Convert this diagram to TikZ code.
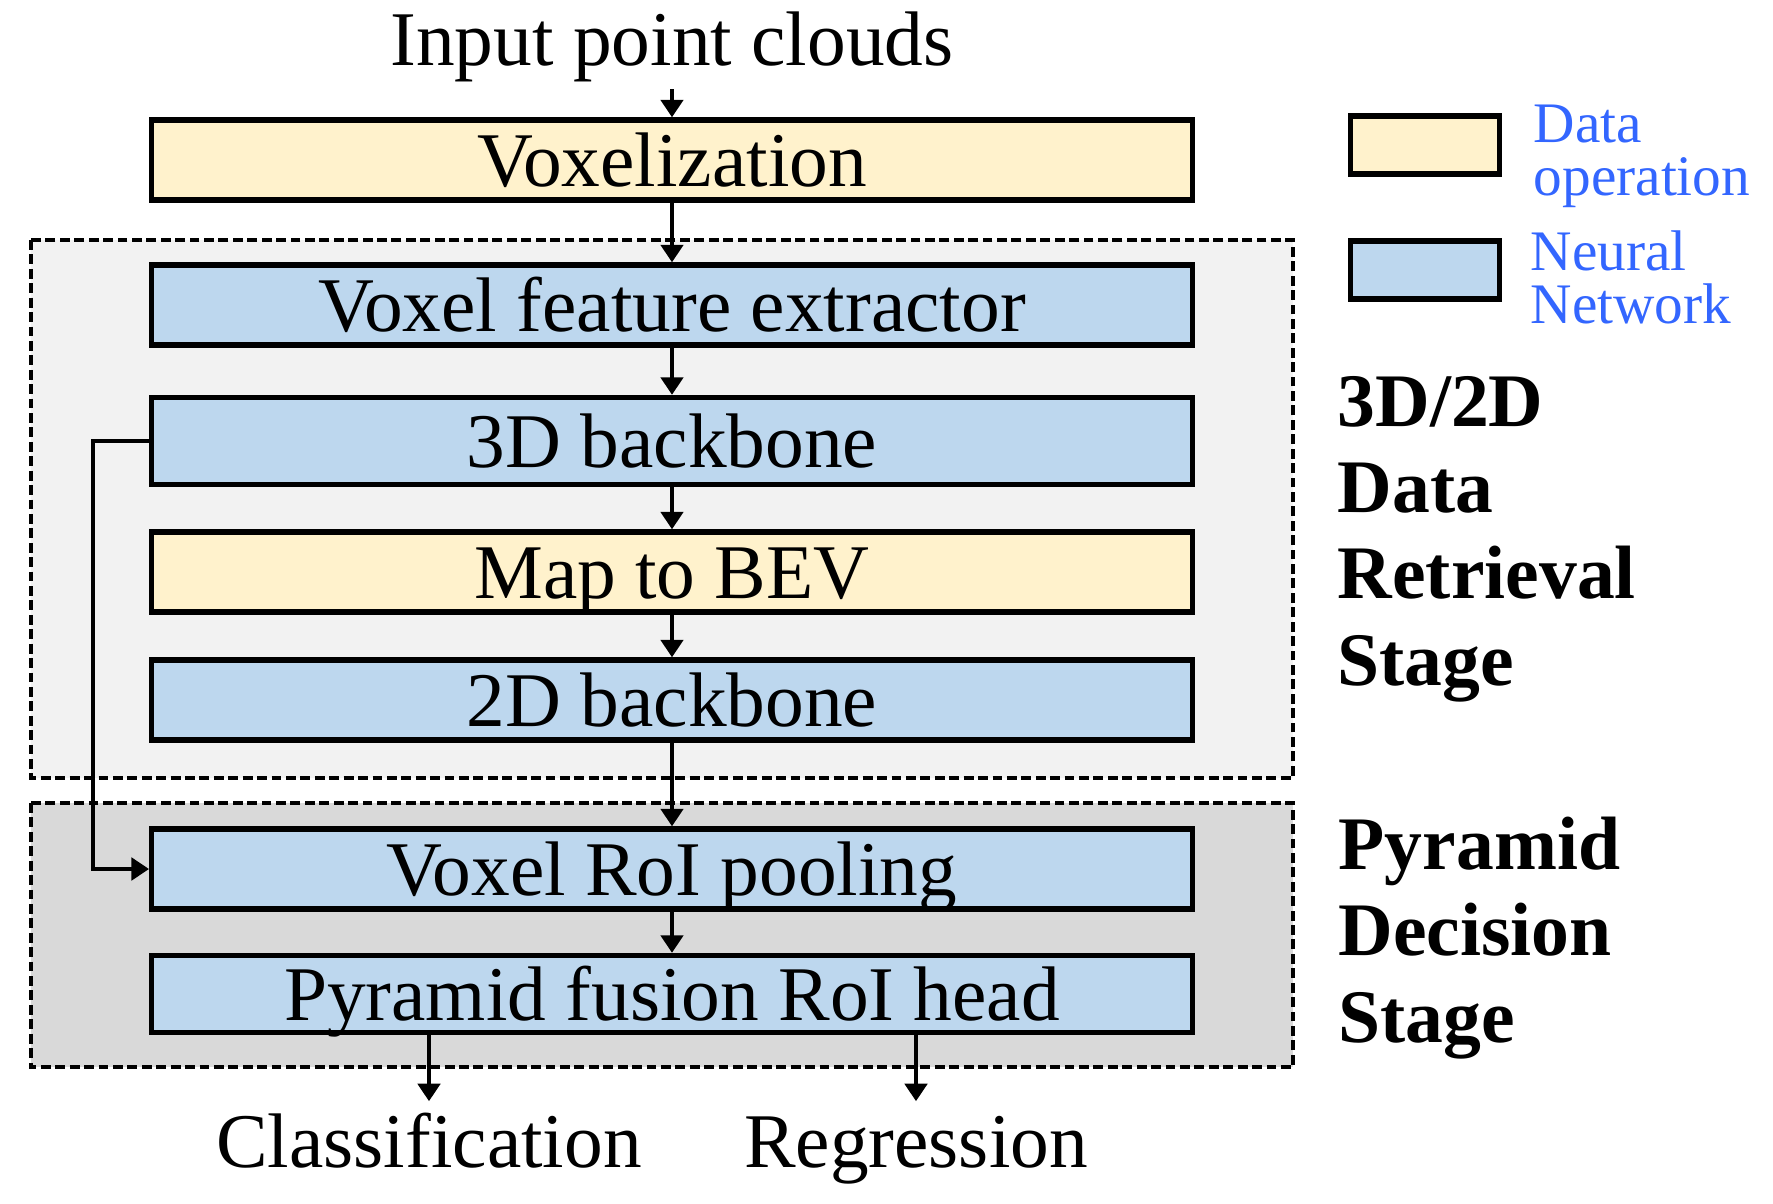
\documentclass[tikz,border=0pt]{standalone}
\usepackage{fontspec}
\setmainfont{Liberation Serif}
\usetikzlibrary{arrows.meta}
\definecolor{datafill}{HTML}{FFF2CC}
\definecolor{netfill}{HTML}{BDD7EE}
\definecolor{retrievalfill}{HTML}{F2F2F2}
\definecolor{decisionfill}{HTML}{D9D9D9}
\definecolor{legendblue}{HTML}{3366FF}

\begin{document}
\begin{tikzpicture}[x=0.01cm,y=-0.01cm,block/.style={draw,line width=1.5pt,minimum width=10.4cm,minimum height=0.8cm,inner sep=0pt,text height=15pt,text depth=0pt,font=\fontsize{22}{25}\selectfont},dataop/.style={block,fill=datafill},neural/.style={block,fill=netfill},stagebox/.style={draw,line width=0.9pt,dash pattern=on 2.8pt off 1.3pt},flow/.style={line width=1.3pt,-{Triangle[length=5pt,width=6.3pt]}},plain/.style={inner sep=0pt,font=\fontsize{22}{25}\selectfont},keybox/.style={draw,line width=1.6pt,minimum width=1.49cm,minimum height=0.58cm,inner sep=0pt},keytext/.style={inner sep=0pt,align=left,text=legendblue,font=\fontsize{16.3}{15}\selectfont},stagename/.style={inner sep=0pt,align=left,font=\fontsize{21.5}{24.5}\selectfont\bfseries}]
\useasboundingbox (0,0) rectangle (1773,1203);
\draw[stagebox,fill=retrievalfill] (31,240) rectangle (1293,778);
\draw[stagebox,fill=decisionfill] (31,803) rectangle (1293,1067);
\node[plain,anchor=base,inner ysep=2pt] (input) at (672,65) {Input point clouds};
\node[dataop] (voxel) at (672,160) {Voxelization};
\node[neural] (vfe) at (672,305) {Voxel feature extractor};
\node[neural,minimum height=0.87cm] (bb3d) at (672,441) {3D backbone};
\node[dataop] (bev) at (672,572) {Map to BEV};
\node[neural] (bb2d) at (672,700) {2D backbone};
\node[neural] (roipool) at (672,869) {Voxel RoI pooling};
\node[neural,minimum height=0.77cm] (head) at (672,994) {Pyramid fusion RoI head};
\node[plain,anchor=base,inner ysep=3.5pt,text height=15pt] (cls) at (429,1167) {Classification};
\node[plain,anchor=base,inner ysep=3.5pt,text height=15pt] (reg) at (916,1167) {Regression};
\coordinate (bend) at (93,441);
\draw[flow] (input) -- (voxel);
\draw[flow] (voxel) -- (vfe);
\draw[flow] (vfe) -- (bb3d);
\draw[flow] (bb3d) -- (bev);
\draw[flow] (bev) -- (bb2d);
\draw[flow] (bb2d) -- (roipool);
\draw[flow] (roipool) -- (head);
\draw[flow] (bb3d.west) -- (bend) |- (roipool.west);
\draw[flow] (head.south -| cls) -- (cls.north);
\draw[flow] (head.south -| reg) -- (reg.north);
% legend
\node[keybox,fill=datafill] (keydata) at (1425,145) {};
\node[keybox,fill=netfill] (keynet) at (1425,270) {};
\node[keytext,anchor=base west] (keydatatext) at (1533,195) {Data\\operation};
\node[keytext,anchor=base west] (keynettext) at (1530,323) {Neural\\Network};
% stage names
\node[stagename,anchor=base west] (retrieval) at (1337,685) {3D/2D\\Data\\Retrieval\\Stage};
\node[stagename,anchor=base west] (decision) at (1338,1042) {Pyramid\\Decision\\Stage};
\end{tikzpicture}
\end{document}
